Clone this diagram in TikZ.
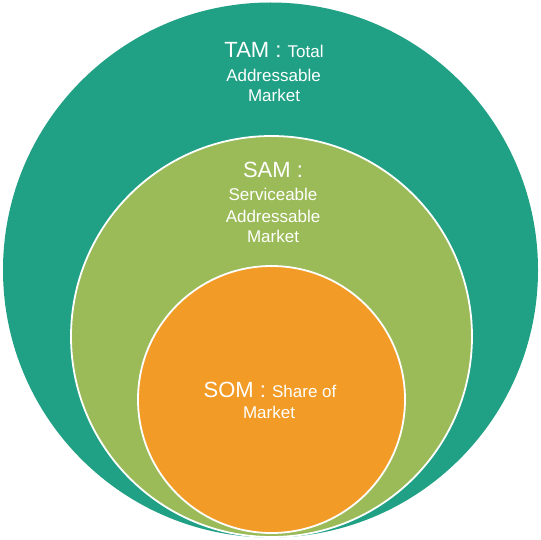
\documentclass[tikz,border=0pt]{standalone}
\usepackage{fontspec}
\setmainfont{Liberation Sans}
\definecolor{tamcol}{HTML}{20A084}
\definecolor{samcol}{HTML}{9BBB59}
\definecolor{somcol}{HTML}{F29B26}
\tikzset{
  ring/.style={line width=1.8pt, draw=white},
  big/.style={font=\fontsize{22}{24}\selectfont},
  lbl/.style={text=white, inner sep=0pt, anchor=base},
}
\newcommand{\smalltxt}[1]{{\fontsize{17}{20}\selectfont #1}}
\begin{document}
\begin{tikzpicture}[x=1pt,y=-1pt]
\useasboundingbox (0,0) rectangle (540,540);
\fill[tamcol] (270.5,270) circle (267.5);
\filldraw[samcol, ring] (271.5,336.5) circle (200.5);
\filldraw[somcol, ring] (271.5,399.5) circle (133.5);
% TAM
\node[lbl] (tam1) at (274,58) {\fontsize{22}{24}\selectfont TAM : \smalltxt{Total}};
\node[lbl] (tam2) at (273.5,82) {\smalltxt{Addressable}};
\node[lbl] (tam3) at (274,102) {\smalltxt{Market}};
% SAM
\node[lbl] (sam1) at (273,178) {\fontsize{22}{24}\selectfont SAM :};
\node[lbl] (sam2) at (273,200) {\smalltxt{Serviceable}};
\node[lbl] (sam3) at (273,222) {\smalltxt{Addressable}};
\node[lbl] (sam4) at (273,242) {\smalltxt{Market}};
% SOM
\node[lbl] (som1) at (270,397) {\fontsize{22}{24}\selectfont SOM : \smalltxt{Share of}};
\node[lbl] (som2) at (269,418) {\smalltxt{Market}};
\end{tikzpicture}
\end{document}
